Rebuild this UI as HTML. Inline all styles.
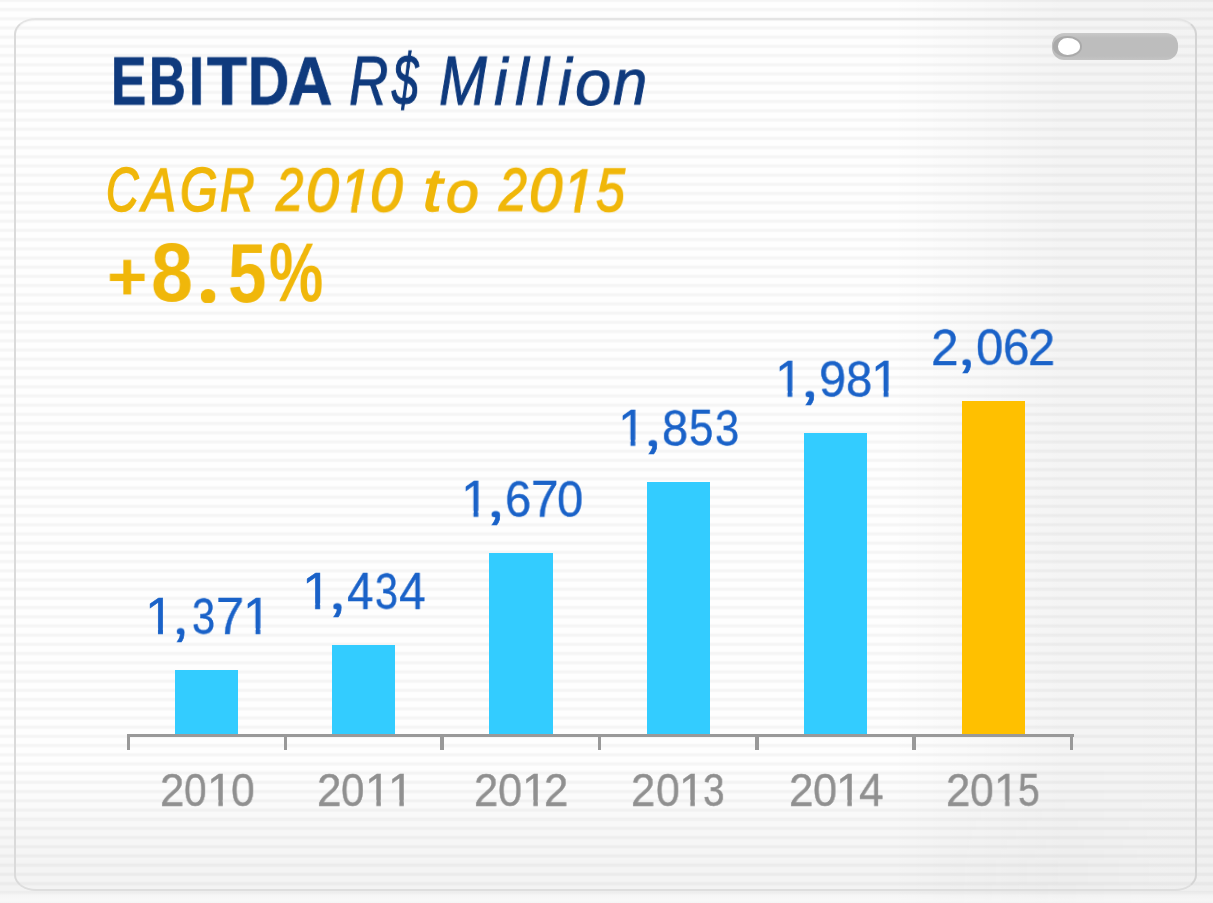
<!DOCTYPE html>
<html><head><meta charset="utf-8"><title>EBITDA R$ Million</title><style>
html,body{margin:0;padding:0;}
body{width:1213px;height:903px;position:relative;overflow:hidden;font-family:"Liberation Sans",sans-serif;background:#fefefe;}
.stripes{position:absolute;left:0;top:0;width:1213px;height:903px;background:repeating-linear-gradient(180deg, rgba(0,0,0,0) 0px, rgba(0,0,0,0) 2.4px, rgba(0,0,0,0.034) 3.6px, rgba(0,0,0,0.034) 5.6px, rgba(0,0,0,0) 6.8px, rgba(0,0,0,0) 9.2px) 0 -4.3px;}
.panel{position:absolute;left:14px;top:17.5px;width:1183px;height:873px;box-sizing:border-box;border:2.6px solid #d4d4d4;border-top-color:#e4e4e4;border-bottom-color:#dedede;border-left-color:#dadada;border-radius:22px / 16px;box-shadow:inset 0 1.5px 1.5px -0.5px rgba(0,0,0,0.035);}
.r{position:absolute}
.t1{position:absolute;-webkit-text-stroke:0.8px #0f3a7d;font-size:69.8px;line-height:69.8px;font-weight:bold;font-style:normal;color:#0f3a7d;white-space:nowrap;will-change:transform;transform-origin:0 0}
.t2{position:absolute;-webkit-text-stroke:1.0px #0f3a7d;font-size:69.8px;line-height:69.8px;font-weight:normal;font-style:italic;color:#0f3a7d;white-space:nowrap;will-change:transform;transform-origin:0 0}
.cg{position:absolute;-webkit-text-stroke:1.6px #f0b70a;font-size:62.9px;line-height:62.9px;font-weight:normal;font-style:italic;color:#f0b70a;white-space:nowrap;will-change:transform;transform-origin:0 0}
.pc{position:absolute;font-size:81.7px;line-height:81.7px;font-weight:bold;font-style:normal;color:#f0b70a;white-space:nowrap;will-change:transform;transform-origin:0 0}
.vl{position:absolute;-webkit-text-stroke:0.4px #1a62c8;font-size:51.6px;line-height:51.6px;font-weight:normal;font-style:normal;color:#1a62c8;white-space:nowrap;will-change:transform;transform-origin:0 0}
.yr{position:absolute;-webkit-text-stroke:0.4px #909090;font-size:46.1px;line-height:46.1px;font-weight:normal;font-style:normal;color:#909090;white-space:nowrap;will-change:transform;transform-origin:0 0}
</style></head><body>
<div class="r" style="left:0;top:0;width:1213px;height:903px;background:linear-gradient(to right, rgba(0,0,0,0) 0px, rgba(0,0,0,0) 890px, rgba(0,0,0,0.04) 1060px, rgba(0,0,0,0.045) 1213px)"></div>
<div class="r" style="left:0;top:0;width:1213px;height:903px;background:linear-gradient(to bottom, rgba(0,0,0,0) 0px, rgba(0,0,0,0) 765px, rgba(0,0,0,0.04) 865px, rgba(0,0,0,0.042) 903px);-webkit-mask-image:linear-gradient(to right, #000 0px, #000 950px, rgba(0,0,0,0.35) 1150px);mask-image:linear-gradient(to right, #000 0px, #000 950px, rgba(0,0,0,0.35) 1150px)"></div>
<div class="stripes"></div>
<div class="panel"></div>
<div class="r" id="bottomfade" style="left:0;top:892px;width:1213px;height:11px;background:linear-gradient(rgba(255,255,255,0.15),rgba(255,255,255,0.55))"></div>
<div class="r" style="left:1052px;top:33px;width:126px;height:27px;border-radius:12px;background:linear-gradient(#c9c9c9,#bdbdbd 18%,#bdbdbd 85%,#c4c4c4)"></div>
<div class="r" style="left:1053px;top:36.2px;width:28.5px;height:20.6px;border-radius:50%;background:#fff;box-sizing:border-box;border:2.2px solid #aaaaaa;border-left-width:5px"></div>
<div class="t1" style="left:110.99px;top:48.70px;transform:matrix(0.7596,0,0,0.9554,0,0)">E</div>
<div class="t1" style="left:149.26px;top:48.70px;transform:matrix(0.7306,0,0,0.9554,0,0)">B</div>
<div class="t1" style="left:188.73px;top:48.70px;transform:matrix(0.7807,0,0,0.9554,0,0)">I</div>
<div class="t1" style="left:206.97px;top:48.70px;transform:matrix(0.9391,0,0,0.9554,0,0)">T</div>
<div class="t1" style="left:247.71px;top:48.70px;transform:matrix(0.8175,0,0,0.9554,0,0)">D</div>
<div class="t1" style="left:288.27px;top:48.70px;transform:matrix(0.8812,0,0,0.9554,0,0)">A</div>
<div class="t2" style="left:349.04px;top:47.83px;transform:matrix(0.7795,0,0,0.9754,0,0)">R</div>
<div class="t2" style="left:391.83px;top:44.42px;transform:matrix(0.6832,0,0,1.0448,0,0)">$</div>
<div class="t2" style="left:439.21px;top:47.83px;transform:matrix(0.8215,0,0,0.9754,0,0)">M</div>
<div class="t2" style="left:493.84px;top:49.70px;transform:matrix(0.8707,0,0,0.9417,0,0)">i</div>
<div class="t2" style="left:514.90px;top:49.70px;transform:matrix(0.8775,0,0,0.9417,0,0)">l</div>
<div class="t2" style="left:535.96px;top:49.70px;transform:matrix(0.8356,0,0,0.9417,0,0)">l</div>
<div class="t2" style="left:558.05px;top:49.70px;transform:matrix(0.8845,0,0,0.9417,0,0)">i</div>
<div class="t2" style="left:574.57px;top:51.85px;transform:matrix(0.9314,0,0,0.9130,0,0)">o</div>
<div class="t2" style="left:612.89px;top:51.23px;transform:matrix(0.8808,0,0,0.9191,0,0)">n</div>
<div class="cg" style="left:106.17px;top:157.41px;transform:matrix(0.7154,0,0,1.0124,0,0)">C</div>
<div class="cg" style="left:142.26px;top:159.38px;transform:matrix(0.8139,0,0,0.9795,0,0)">A</div>
<div class="cg" style="left:180.42px;top:157.39px;transform:matrix(0.7713,0,0,1.0127,0,0)">G</div>
<div class="cg" style="left:220.27px;top:159.38px;transform:matrix(0.7608,0,0,0.9795,0,0)">R</div>
<div class="cg" style="left:276.08px;top:159.34px;transform:matrix(0.7793,0,0,0.9709,0,0)">2</div>
<div class="cg" style="left:305.85px;top:159.31px;transform:matrix(0.9401,0,0,0.9865,0,0)">0</div>
<div class="cg" style="left:339.73px;top:159.50px;transform:matrix(0.8884,0,0,0.9773,0,0);clip-path:polygon(0.0px -50.0px,3000.0px -50.0px,3000.0px 46.1px,19.7px 46.1px,18.8px 56.3px,12.1px 56.3px,13.0px 46.1px,0.0px 46.1px)">1</div>
<div class="cg" style="left:369.91px;top:159.30px;transform:matrix(0.9336,0,0,0.9865,0,0)">0</div>
<div class="cg" style="left:423.30px;top:160.38px;transform:matrix(1.0801,0,0,0.9601,0,0)">t</div>
<div class="cg" style="left:446.41px;top:163.01px;transform:matrix(0.9333,0,0,0.9230,0,0)">o</div>
<div class="cg" style="left:499.06px;top:159.33px;transform:matrix(0.7916,0,0,0.9711,0,0)">2</div>
<div class="cg" style="left:529.39px;top:159.33px;transform:matrix(0.9547,0,0,0.9864,0,0)">0</div>
<div class="cg" style="left:562.51px;top:159.50px;transform:matrix(0.9021,0,0,0.9773,0,0);clip-path:polygon(0.0px -50.0px,3000.0px -50.0px,3000.0px 46.1px,19.7px 46.1px,18.8px 56.3px,12.1px 56.3px,13.0px 46.1px,0.0px 46.1px)">1</div>
<div class="cg" style="left:595.70px;top:159.44px;transform:matrix(0.8241,0,0,0.9840,0,0)">5</div>
<div class="pc" style="left:106.71px;top:241.61px;transform:matrix(0.8473,0,0,0.8324,0,0)">+</div>
<div class="pc" style="left:150.98px;top:230.96px;transform:matrix(0.9208,0,0,1.0167,0,0)">8</div>
<div class="pc" style="left:194.19px;top:223.56px;transform:matrix(1.2474,0,0,1.1470,0,0);clip-path:ellipse(6.11px 6.43px at 11.31px 63.09px)">.</div>
<div class="pc" style="left:227.85px;top:231.64px;transform:matrix(0.8454,0,0,1.0143,0,0)">5</div>
<div class="pc" style="left:269.12px;top:230.12px;transform:matrix(0.7478,0,0,1.0288,0,0)">%</div>
<div class="vl" style="left:145.26px;top:591.40px;transform:matrix(1.0158,0,0,0.9983,0,0);clip-path:polygon(0.0px -50.0px,3000.0px -50.0px,3000.0px 37.3px,17.7px 37.3px,17.7px 46.7px,12.8px 46.7px,12.8px 37.3px,0.0px 37.3px)">1</div>
<div class="vl" style="left:169.56px;top:582.33px;transform:matrix(1.4566,0,0,1.2165,0,0);clip-path:polygon(7.24px 37.82px,6.52px 37.92px,5.84px 38.20px,5.26px 38.64px,4.81px 39.23px,4.53px 39.90px,4.44px 40.63px,4.53px 41.35px,4.81px 42.03px,5.26px 42.61px,5.84px 43.06px,6.52px 43.34px,7.24px 43.44px,6.70px 43.69px,3.78px 51.25px,11.59px 51.25px,11.59px 40.63px,10.05px 40.63px,9.95px 39.90px,9.67px 39.23px,9.23px 38.64px,8.65px 38.20px,7.97px 37.92px,7.24px 37.82px)">,</div>
<div class="vl" style="left:192.34px;top:592.25px;transform:matrix(0.8027,0,0,0.9641,0,0)">3</div>
<div class="vl" style="left:216.34px;top:591.40px;transform:matrix(0.9792,0,0,0.9983,0,0)">7</div>
<div class="vl" style="left:242.52px;top:591.40px;transform:matrix(0.9797,0,0,0.9983,0,0);clip-path:polygon(0.0px -50.0px,3000.0px -50.0px,3000.0px 37.3px,17.7px 37.3px,17.7px 46.7px,12.8px 46.7px,12.8px 37.3px,0.0px 37.3px)">1</div>
<div class="vl" style="left:302.16px;top:566.40px;transform:matrix(1.0243,0,0,0.9983,0,0);clip-path:polygon(0.0px -50.0px,3000.0px -50.0px,3000.0px 37.3px,17.7px 37.3px,17.7px 46.7px,12.8px 46.7px,12.8px 37.3px,0.0px 37.3px)">1</div>
<div class="vl" style="left:326.11px;top:557.19px;transform:matrix(1.5653,0,0,1.2199,0,0);clip-path:polygon(7.24px 37.82px,6.52px 37.92px,5.84px 38.20px,5.26px 38.64px,4.81px 39.23px,4.53px 39.90px,4.44px 40.63px,4.53px 41.35px,4.81px 42.03px,5.26px 42.61px,5.84px 43.06px,6.52px 43.34px,7.24px 43.44px,6.70px 43.69px,3.78px 51.25px,11.59px 51.25px,11.59px 40.63px,10.05px 40.63px,9.95px 39.90px,9.67px 39.23px,9.23px 38.64px,8.65px 38.20px,7.97px 37.92px,7.24px 37.82px)">,</div>
<div class="vl" style="left:347.20px;top:566.40px;transform:matrix(0.9183,0,0,0.9983,0,0)">4</div>
<div class="vl" style="left:375.09px;top:567.26px;transform:matrix(0.7979,0,0,0.9639,0,0)">3</div>
<div class="vl" style="left:399.16px;top:566.40px;transform:matrix(0.9265,0,0,0.9983,0,0)">4</div>
<div class="vl" style="left:461.07px;top:474.36px;transform:matrix(0.9774,0,0,0.9900,0,0);clip-path:polygon(0.0px -50.0px,3000.0px -50.0px,3000.0px 37.3px,17.7px 37.3px,17.7px 46.7px,12.8px 46.7px,12.8px 37.3px,0.0px 37.3px)">1</div>
<div class="vl" style="left:483.74px;top:464.90px;transform:matrix(1.6282,0,0,1.2161,0,0);clip-path:polygon(7.24px 37.82px,6.52px 37.92px,5.84px 38.20px,5.26px 38.64px,4.81px 39.23px,4.53px 39.90px,4.44px 40.63px,4.53px 41.35px,4.81px 42.03px,5.26px 42.61px,5.84px 43.06px,6.52px 43.34px,7.24px 43.44px,6.70px 43.69px,3.78px 51.25px,11.59px 51.25px,11.59px 40.63px,10.05px 40.63px,9.95px 39.90px,9.67px 39.23px,9.23px 38.64px,8.65px 38.20px,7.97px 37.92px,7.24px 37.82px)">,</div>
<div class="vl" style="left:504.96px;top:475.19px;transform:matrix(0.9129,0,0,0.9565,0,0)">6</div>
<div class="vl" style="left:531.38px;top:474.36px;transform:matrix(0.9590,0,0,0.9900,0,0)">7</div>
<div class="vl" style="left:557.38px;top:475.21px;transform:matrix(0.9128,0,0,0.9560,0,0)">0</div>
<div class="vl" style="left:618.07px;top:403.36px;transform:matrix(0.9774,0,0,0.9900,0,0);clip-path:polygon(0.0px -50.0px,3000.0px -50.0px,3000.0px 37.3px,17.7px 37.3px,17.7px 46.7px,12.8px 46.7px,12.8px 37.3px,0.0px 37.3px)">1</div>
<div class="vl" style="left:640.74px;top:393.90px;transform:matrix(1.6282,0,0,1.2161,0,0);clip-path:polygon(7.24px 37.82px,6.52px 37.92px,5.84px 38.20px,5.26px 38.64px,4.81px 39.23px,4.53px 39.90px,4.44px 40.63px,4.53px 41.35px,4.81px 42.03px,5.26px 42.61px,5.84px 43.06px,6.52px 43.34px,7.24px 43.44px,6.70px 43.69px,3.78px 51.25px,11.59px 51.25px,11.59px 40.63px,10.05px 40.63px,9.95px 39.90px,9.67px 39.23px,9.23px 38.64px,8.65px 38.20px,7.97px 37.92px,7.24px 37.82px)">,</div>
<div class="vl" style="left:661.71px;top:404.18px;transform:matrix(0.9087,0,0,0.9555,0,0)">8</div>
<div class="vl" style="left:688.75px;top:403.47px;transform:matrix(0.8481,0,0,0.9728,0,0)">5</div>
<div class="vl" style="left:715.06px;top:404.21px;transform:matrix(0.8396,0,0,0.9563,0,0)">3</div>
<div class="vl" style="left:775.07px;top:354.36px;transform:matrix(0.9774,0,0,0.9900,0,0);clip-path:polygon(0.0px -50.0px,3000.0px -50.0px,3000.0px 37.3px,17.7px 37.3px,17.7px 46.7px,12.8px 46.7px,12.8px 37.3px,0.0px 37.3px)">1</div>
<div class="vl" style="left:797.74px;top:344.90px;transform:matrix(1.6282,0,0,1.2161,0,0);clip-path:polygon(7.24px 37.82px,6.52px 37.92px,5.84px 38.20px,5.26px 38.64px,4.81px 39.23px,4.53px 39.90px,4.44px 40.63px,4.53px 41.35px,4.81px 42.03px,5.26px 42.61px,5.84px 43.06px,6.52px 43.34px,7.24px 43.44px,6.70px 43.69px,3.78px 51.25px,11.59px 51.25px,11.59px 40.63px,10.05px 40.63px,9.95px 39.90px,9.67px 39.23px,9.23px 38.64px,8.65px 38.20px,7.97px 37.92px,7.24px 37.82px)">,</div>
<div class="vl" style="left:819.12px;top:355.21px;transform:matrix(0.9427,0,0,0.9557,0,0)">9</div>
<div class="vl" style="left:846.30px;top:355.18px;transform:matrix(0.9133,0,0,0.9557,0,0)">8</div>
<div class="vl" style="left:871.35px;top:354.36px;transform:matrix(0.9834,0,0,0.9900,0,0);clip-path:polygon(0.0px -50.0px,3000.0px -50.0px,3000.0px 37.3px,17.7px 37.3px,17.7px 46.7px,12.8px 46.7px,12.8px 37.3px,0.0px 37.3px)">1</div>
<div class="vl" style="left:930.68px;top:323.37px;transform:matrix(0.9600,0,0,0.9757,0,0)">2</div>
<div class="vl" style="left:955.01px;top:313.16px;transform:matrix(1.5990,0,0,1.2202,0,0);clip-path:polygon(7.24px 37.82px,6.52px 37.92px,5.84px 38.20px,5.26px 38.64px,4.81px 39.23px,4.53px 39.90px,4.44px 40.63px,4.53px 41.35px,4.81px 42.03px,5.26px 42.61px,5.84px 43.06px,6.52px 43.34px,7.24px 43.44px,6.70px 43.69px,3.78px 51.25px,11.59px 51.25px,11.59px 40.63px,10.05px 40.63px,9.95px 39.90px,9.67px 39.23px,9.23px 38.64px,8.65px 38.20px,7.97px 37.92px,7.24px 37.82px)">,</div>
<div class="vl" style="left:976.45px;top:323.48px;transform:matrix(0.9512,0,0,0.9586,0,0)">0</div>
<div class="vl" style="left:1002.94px;top:323.47px;transform:matrix(0.9179,0,0,0.9590,0,0)">6</div>
<div class="vl" style="left:1027.66px;top:323.38px;transform:matrix(0.9450,0,0,0.9755,0,0)">2</div>
<div class="yr" style="left:159.89px;top:766.89px;transform:matrix(0.9468,0,0,0.9972,0,0)">2</div>
<div class="yr" style="left:183.85px;top:766.92px;transform:matrix(0.8826,0,0,0.9979,0,0)">0</div>
<div class="yr" style="left:206.64px;top:766.99px;transform:matrix(0.9942,0,0,0.9947,0,0);clip-path:polygon(0.0px -50.0px,3000.0px -50.0px,3000.0px 33.1px,15.9px 33.1px,15.9px 42.0px,11.4px 42.0px,11.4px 33.1px,0.0px 33.1px)">1</div>
<div class="yr" style="left:231.17px;top:766.92px;transform:matrix(0.9269,0,0,0.9977,0,0)">0</div>
<div class="yr" style="left:317.23px;top:766.91px;transform:matrix(0.9526,0,0,0.9968,0,0)">2</div>
<div class="yr" style="left:340.73px;top:766.93px;transform:matrix(0.9107,0,0,0.9971,0,0)">0</div>
<div class="yr" style="left:364.64px;top:766.99px;transform:matrix(0.9942,0,0,0.9947,0,0);clip-path:polygon(0.0px -50.0px,3000.0px -50.0px,3000.0px 33.1px,15.9px 33.1px,15.9px 42.0px,11.4px 42.0px,11.4px 33.1px,0.0px 33.1px)">1</div>
<div class="yr" style="left:387.64px;top:766.99px;transform:matrix(0.9942,0,0,0.9947,0,0);clip-path:polygon(0.0px -50.0px,3000.0px -50.0px,3000.0px 33.1px,15.9px 33.1px,15.9px 42.0px,11.4px 42.0px,11.4px 33.1px,0.0px 33.1px)">1</div>
<div class="yr" style="left:473.79px;top:766.89px;transform:matrix(0.9441,0,0,0.9972,0,0)">2</div>
<div class="yr" style="left:497.74px;top:766.92px;transform:matrix(0.9400,0,0,0.9982,0,0)">0</div>
<div class="yr" style="left:521.64px;top:766.99px;transform:matrix(0.9942,0,0,0.9947,0,0);clip-path:polygon(0.0px -50.0px,3000.0px -50.0px,3000.0px 33.1px,15.9px 33.1px,15.9px 42.0px,11.4px 42.0px,11.4px 33.1px,0.0px 33.1px)">1</div>
<div class="yr" style="left:543.90px;top:766.89px;transform:matrix(0.9453,0,0,0.9972,0,0)">2</div>
<div class="yr" style="left:630.79px;top:766.89px;transform:matrix(0.9441,0,0,0.9972,0,0)">2</div>
<div class="yr" style="left:655.51px;top:766.92px;transform:matrix(0.9281,0,0,0.9977,0,0)">0</div>
<div class="yr" style="left:678.64px;top:766.99px;transform:matrix(0.9942,0,0,0.9947,0,0);clip-path:polygon(0.0px -50.0px,3000.0px -50.0px,3000.0px 33.1px,15.9px 33.1px,15.9px 42.0px,11.4px 42.0px,11.4px 33.1px,0.0px 33.1px)">1</div>
<div class="yr" style="left:703.10px;top:766.93px;transform:matrix(0.8390,0,0,0.9973,0,0)">3</div>
<div class="yr" style="left:789.23px;top:766.91px;transform:matrix(0.9526,0,0,0.9968,0,0)">2</div>
<div class="yr" style="left:812.68px;top:766.92px;transform:matrix(0.9398,0,0,0.9982,0,0)">0</div>
<div class="yr" style="left:835.64px;top:766.99px;transform:matrix(0.9942,0,0,0.9947,0,0);clip-path:polygon(0.0px -50.0px,3000.0px -50.0px,3000.0px 33.1px,15.9px 33.1px,15.9px 42.0px,11.4px 42.0px,11.4px 33.1px,0.0px 33.1px)">1</div>
<div class="yr" style="left:859.07px;top:766.99px;transform:matrix(0.9563,0,0,0.9947,0,0)">4</div>
<div class="yr" style="left:945.89px;top:766.89px;transform:matrix(0.9468,0,0,0.9972,0,0)">2</div>
<div class="yr" style="left:970.17px;top:766.92px;transform:matrix(0.9269,0,0,0.9977,0,0)">0</div>
<div class="yr" style="left:993.90px;top:766.99px;transform:matrix(0.9717,0,0,0.9947,0,0);clip-path:polygon(0.0px -50.0px,3000.0px -50.0px,3000.0px 33.1px,15.9px 33.1px,15.9px 42.0px,11.4px 42.0px,11.4px 33.1px,0.0px 33.1px)">1</div>
<div class="yr" style="left:1018.28px;top:766.98px;transform:matrix(0.8480,0,0,0.9964,0,0)">5</div>
<div class="r" style="left:175px;top:669.6px;width:63.2px;height:64.4px;background:#33ccff"></div>
<div class="r" style="left:332.3px;top:645px;width:63.2px;height:89.0px;background:#33ccff"></div>
<div class="r" style="left:489.4px;top:553px;width:63.2px;height:181.0px;background:#33ccff"></div>
<div class="r" style="left:646.9px;top:482.3px;width:63.2px;height:251.7px;background:#33ccff"></div>
<div class="r" style="left:804.3px;top:432.7px;width:63.2px;height:301.3px;background:#33ccff"></div>
<div class="r" style="left:961.7px;top:401px;width:63.2px;height:333.0px;background:#ffc000"></div>
<div class="r" style="left:127px;top:734px;width:946.5px;height:3.4px;background:#999999"></div>
<div class="r" style="left:126.6px;top:734px;width:3.4px;height:15.7px;background:#999999"></div>
<div class="r" style="left:284px;top:734px;width:3.4px;height:15.7px;background:#999999"></div>
<div class="r" style="left:440.4px;top:734px;width:3.4px;height:15.7px;background:#999999"></div>
<div class="r" style="left:597.7px;top:734px;width:3.4px;height:15.7px;background:#999999"></div>
<div class="r" style="left:755.2px;top:734px;width:3.4px;height:15.7px;background:#999999"></div>
<div class="r" style="left:912.3px;top:734px;width:3.4px;height:15.7px;background:#999999"></div>
<div class="r" style="left:1070px;top:734px;width:3.4px;height:15.7px;background:#999999"></div>
</body></html>
